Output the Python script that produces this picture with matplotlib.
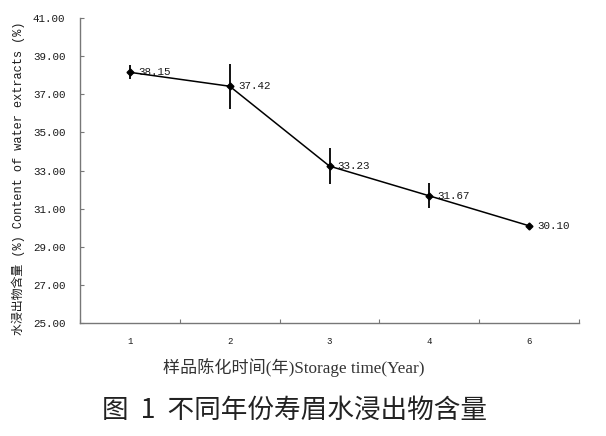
import matplotlib
matplotlib.use("Agg")
import matplotlib.pyplot as plt
import numpy as np

categories = ["1", "2", "3", "4", "6"]
values = [38.15, 37.42, 33.23, 31.67, 30.10]
errors = [0.37, 1.18, 0.95, 0.65, 0.0]
value_labels = ["38.15", "37.42", "33.23", "31.67", "30.10"]
yticks = [25, 27, 29, 31, 33, 35, 37, 39, 41]

mono = ["Liberation Mono", "Noto Sans CJK SC"]
serif = ["Liberation Serif", "Noto Sans CJK SC"]
cjk = ["Noto Sans CJK SC", "DejaVu Sans"]

fig = plt.figure(figsize=(6.06, 4.36), dpi=100)
ax = fig.add_axes([80/606, 1-323/436, (579-80)/606, (323-18)/436])

x = np.arange(len(categories))
ax.errorbar(x, values, yerr=errors, color="black", lw=1.1, elinewidth=1.3,
            marker="D", ms=3.5, capsize=0, zorder=3)
for xi, v, lab in zip(x, values, value_labels):
    ax.annotate(lab, (xi, v), xytext=(6, 0), textcoords="offset points",
                va="center", ha="left", fontsize=7.8, family=mono, color="#1a1a1a")

ax.set_xlim(-0.5, len(categories) - 0.5)
ax.set_ylim(25, 41)
ax.set_yticks(yticks)
ax.set_yticklabels([f"{t:.2f}" for t in yticks], family=mono, fontsize=7.8, color="#1a1a1a")
ax.set_xticks(np.arange(len(categories) + 1) - 0.5, minor=False)
ax.set_xticklabels([""] * (len(categories) + 1))
ax.set_xticks(x, minor=True)
ax.set_xticklabels(categories, minor=True, family=mono, fontsize=6.5, color="#1a1a1a")
ax.tick_params(axis="x", which="minor", length=0, pad=10)
ax.tick_params(axis="x", which="major", direction="in", length=3, color="#777777")
ax.tick_params(axis="y", direction="in", length=3, color="#777777", pad=10.5)

for s in ["top", "right"]:
    ax.spines[s].set_visible(False)
for s in ["left", "bottom"]:
    ax.spines[s].set_color("#777777")
    ax.spines[s].set_linewidth(1.0)

fig.text(18/606, 1-178/436, "水浸出物含量 (%) Content of water extracts (%)",
         rotation=90, ha="center", va="center", fontsize=8.6, family=mono, color="#1a1a1a")
fig.text(294/606, 1-368/436, "样品陈化时间(年)Storage time(Year)",
         ha="center", va="center", fontsize=12.3, family=serif, color="#333333")
fig.text(295/606, 1-410/436, "图  1  不同年份寿眉水浸出物含量",
         ha="center", va="center", fontsize=19.2, family=cjk, color="#222222")

fig.savefig("out.png", dpi=100)
